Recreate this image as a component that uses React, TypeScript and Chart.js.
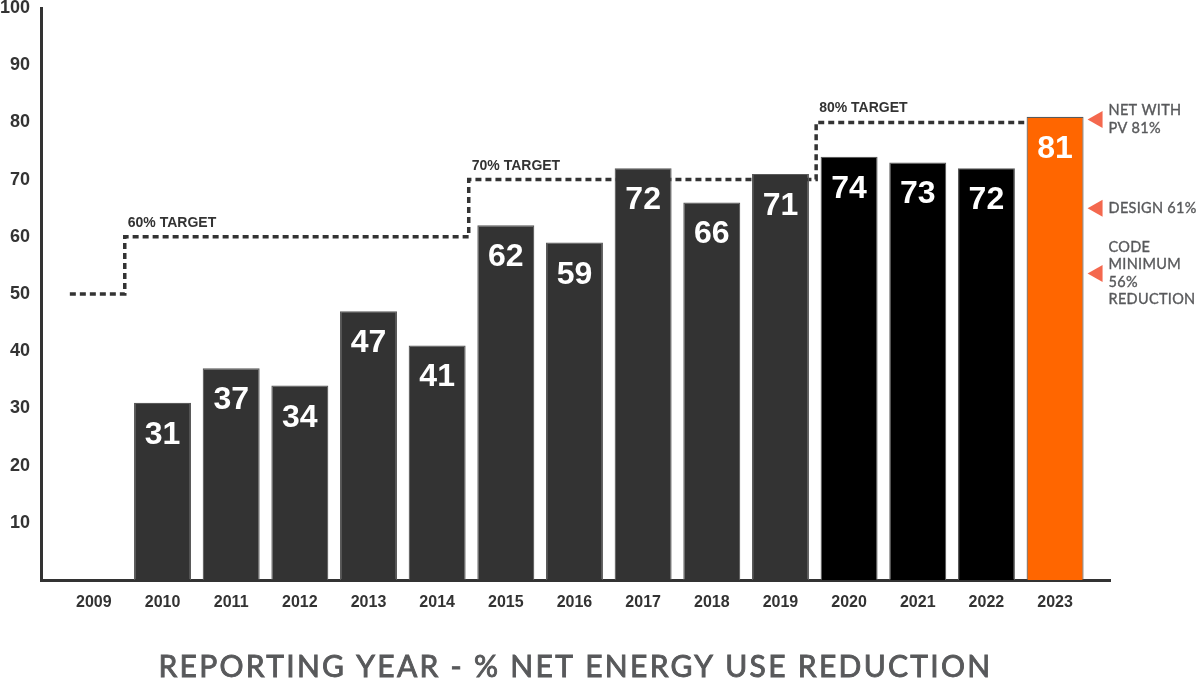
import React, { useEffect, useRef } from 'react';
import { Chart, registerables } from 'chart.js';

Chart.register(...registerables);

const years = ['2009', '2010', '2011', '2012', '2013', '2014', '2015', '2016', '2017', '2018', '2019', '2020', '2021', '2022', '2023'];
const reduction: (number | null)[] = [null, 31, 37, 34, 47, 41, 62, 59, 72, 66, 71, 74, 73, 72, 81];
const valueLabels = ['', '31', '37', '34', '47', '41', '62', '59', '72', '66', '71', '74', '73', '72', '81'];
// target step line, x in category units
const targetX = [-0.35, 0.45, 5.46, 10.52, 13.6];
const targetY = [50, 60, 70, 80, 80];
const targetLabels = ['', '60% TARGET', '70% TARGET', '80% TARGET', ''];
const noteValues = [80.5, 65, 53.6];
const noteLines = [['NET WITH', 'PV 81%'], ['DESIGN 61%'], ['CODE', 'MINIMUM', '56%', 'REDUCTION']];
const axisTitle = 'REPORTING YEAR - % NET ENERGY USE REDUCTION';
const yMin = 0;
const yMax = 100;
const yStep = 10;

function barColor(year: string) {
  const y = Number(year);
  if (y >= 2023) return '#ff6600';
  if (y >= 2020) return '#000000';
  return '#333333';
}

const annotationsPlugin = {
  id: 'annotations',
  afterDatasetsDraw(chart: any) {
    const { ctx, chartArea, scales } = chart;
    const yScale = scales.y;
    const xScale = scales.x;
    ctx.save();
    // bar value labels
    const barMeta = chart.getDatasetMeta(1);
    ctx.fillStyle = '#ffffff';
    ctx.font = 'bold 32px "Liberation Sans", Arial, sans-serif';
    ctx.textAlign = 'center';
    ctx.textBaseline = 'alphabetic';
    barMeta.data.forEach((el: any, i: number) => {
      if (reduction[i] == null) return;
      ctx.fillText(valueLabels[i], el.x, el.y + 41);
    });
    // target labels
    ctx.fillStyle = '#333333';
    ctx.font = 'bold 14px "Liberation Sans", Arial, sans-serif';
    ctx.textAlign = 'left';
    targetLabels.forEach((t, i) => {
      if (!t) return;
      const x = xScale.getPixelForValue(targetX[i]);
      const y = yScale.getPixelForValue(targetY[i]);
      ctx.fillText(t, x + 3, y - 10);
    });
    // right notes
    const last = barMeta.data[barMeta.data.length - 1];
    const tipX = last.x + last.width / 2 + 4;
    noteValues.forEach((v, i) => {
      const y = yScale.getPixelForValue(v);
      ctx.fillStyle = '#f4684e';
      ctx.beginPath();
      ctx.moveTo(tipX, y);
      ctx.lineTo(tipX + 15, y - 8.5);
      ctx.lineTo(tipX + 15, y + 8.5);
      ctx.closePath();
      ctx.fill();
      const lines = noteLines[i];
      const lh = 17.5;
      ctx.fillStyle = '#58595b';
      ctx.strokeStyle = '#58595b';
      ctx.lineWidth = 0.35;
      ctx.font = '14.5px Lato, "Noto Sans", sans-serif';
      (ctx as any).letterSpacing = '0.3px';
      ctx.textBaseline = 'middle';
      ctx.textAlign = 'left';
      const startY = y - ((lines.length - 1) * lh) / 2;
      lines.forEach((ln, k) => {
        ctx.fillText(ln, tipX + 21, startY + k * lh);
        ctx.strokeText(ln, tipX + 21, startY + k * lh);
      });
      (ctx as any).letterSpacing = '0px';
    });
    // axis title
    ctx.fillStyle = '#58595b';
    ctx.strokeStyle = '#58595b';
    ctx.lineWidth = 0.9;
    ctx.font = '30px Lato, "Noto Sans", sans-serif';
    (ctx as any).letterSpacing = '2.3px';
    ctx.textAlign = 'center';
    ctx.textBaseline = 'alphabetic';
    const tx = (chartArea.left + chartArea.right) / 2;
    ctx.fillText(axisTitle, tx, chart.height - 4);
    ctx.strokeText(axisTitle, tx, chart.height - 4);
    (ctx as any).letterSpacing = '0px';
    ctx.restore();
  },
};

export default function App() {
  const ref = useRef<HTMLCanvasElement | null>(null);
  useEffect(() => {
    if (!ref.current) return;
    const chart = new Chart(ref.current, {
      type: 'bar',
      data: {
        datasets: [
          {
            type: 'line',
            label: 'Target',
            data: targetX.map((x, i) => ({ x, y: targetY[i] })),
            borderColor: '#333333',
            borderWidth: 3.5,
            borderDash: [6, 4],
            stepped: 'before',
            pointRadius: 0,
            pointHoverRadius: 0,
            fill: false,
            order: 2,
          } as any,
          {
            type: 'bar',
            label: 'Reduction',
            data: years.map((_, i) => ({ x: i, y: reduction[i] })),
            backgroundColor: years.map(barColor),
            borderColor: '#5a5a5a',
            borderWidth: 1.2,
            barPercentage: 0.83,
            categoryPercentage: 1,
            order: 1,
          } as any,
        ],
      },
      options: {
        responsive: false,
        animation: false,
        layout: { autoPadding: false, padding: { left: 0, right: 90, top: 0, bottom: 0 } },
        plugins: { legend: { display: false }, tooltip: { enabled: false } },
        scales: {
          x: {
            type: 'linear',
            offset: false,
            min: -0.77,
            max: 14.8,
            grid: { display: false, offset: false, drawTicks: false },
            border: { display: true, color: '#333333', width: 3 },
            afterBuildTicks: (scale: any) => {
              scale.ticks = years.map((_, i) => ({ value: i }));
            },
            afterFit: (scale: any) => {
              scale.height = 101;
              scale.paddingLeft = 0;
              scale.paddingRight = 0;
            },
            ticks: {
              autoSkip: false,
              maxRotation: 0,
              padding: 13,
              color: '#333333',
              font: { family: '"Liberation Sans", Arial, sans-serif', size: 16, weight: 'bold' },
              callback: (v: any) => years[v] ?? '',
            },
          },
          y: {
            min: yMin,
            max: yMax,
            grid: { display: false, drawTicks: false },
            border: { display: true, color: '#333333', width: 3 },
            afterFit: (scale: any) => {
              scale.width = 41;
              scale.paddingTop = 8;
              scale.paddingBottom = 0;
            },
            ticks: {
              stepSize: yStep,
              padding: 11,
              color: '#333333',
              font: { family: '"Liberation Sans", Arial, sans-serif', size: 18, weight: 'bold', lineHeight: 1 },
              callback: (v: any) => (v === 0 ? '' : String(v)),
            },
          },
        },
      },
      plugins: [annotationsPlugin],
    });
    return () => chart.destroy();
  }, []);
  return (
    <div style={{ position: 'fixed', left: 0, top: 0, width: 1200, height: 681, background: '#fff' }}>
      <canvas ref={ref} width={1200} height={681} style={{ width: 1200, height: 681, display: 'block' }} />
    </div>
  );
}
